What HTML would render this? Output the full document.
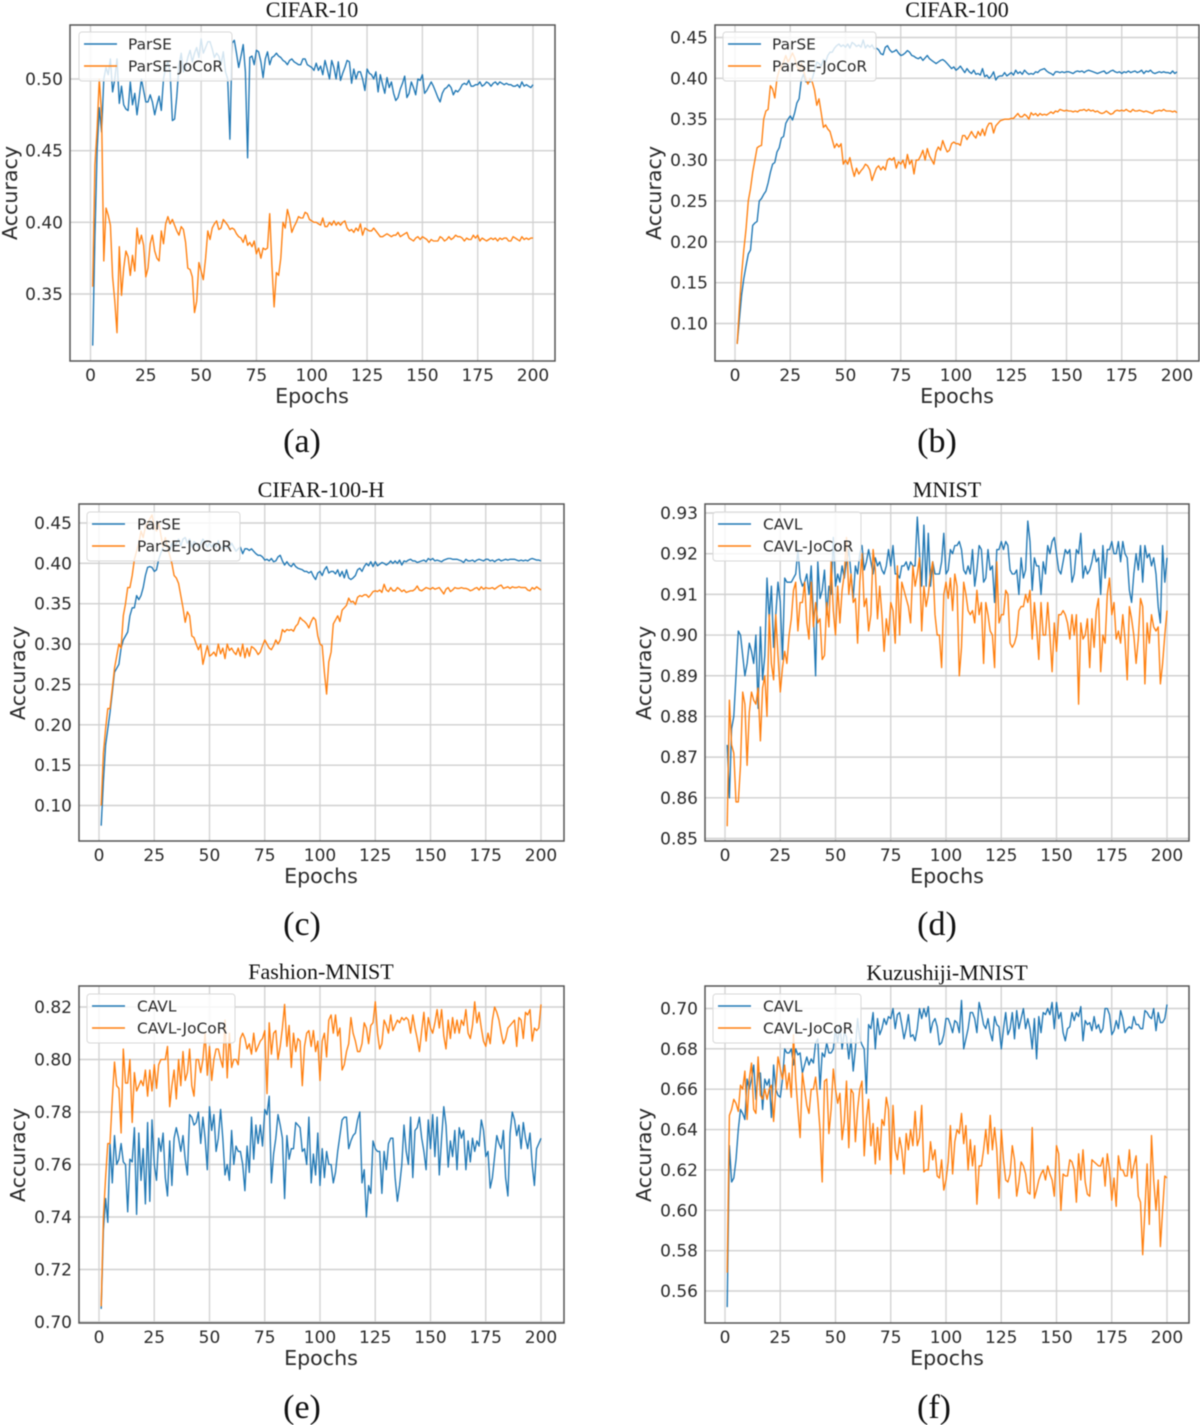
<!DOCTYPE html>
<html lang="en">
<head>
<meta charset="utf-8">
<title>Accuracy curves on six datasets</title>
<style>
html,body{margin:0;padding:0;background:#fff;}
#figure{display:block;width:1200px;height:1425px;background:#fff;}
.blurred{filter:blur(0.45px);}
.tick{font-family:"DejaVu Sans",sans-serif;font-size:17px;fill:#2a2a2a;}
.axis-title{font-family:"DejaVu Sans",sans-serif;font-size:20.6px;fill:#2a2a2a;text-anchor:middle;}
.legend-text{font-family:"DejaVu Sans",sans-serif;font-size:15.4px;fill:#2a2a2a;}
.title{font-family:"Liberation Serif",serif;font-size:22px;fill:#111;text-anchor:middle;}
.caption{font-family:"Liberation Serif",serif;font-size:34px;fill:#111;text-anchor:middle;}
.legend-box{fill:#fff;fill-opacity:.8;stroke:#d8d8d8;stroke-width:1;}
</style>
</head>
<body>
<svg id="figure" xmlns="http://www.w3.org/2000/svg" width="1200" height="1425" viewBox="0 0 1200 1425">
<g class="blurred">

<!-- panel a -->
<g>
<g id="plot-a"></g>
<g>
<rect class="legend-box" x="79" y="32" width="153" height="49" rx="3"/>
<line x1="84" x2="117" y1="44" y2="44" stroke="#1f77b4" stroke-width="1.5"/>
<text class="legend-text" x="128" y="49.5">ParSE</text>
<line x1="84" x2="117" y1="66" y2="66" stroke="#ff7f0e" stroke-width="1.5"/>
<text class="legend-text" x="128" y="71.5">ParSE-JoCoR</text>
</g>
<text class="title" x="312" y="17">CIFAR-10</text>
<text class="axis-title" x="312" y="403">Epochs</text>
<text class="axis-title" transform="translate(17,193) rotate(-90)">Accuracy</text>
<text class="caption" x="302" y="452">(a)</text>
</g>

<!-- panel b -->
<g>
<g id="plot-b"></g>
<g>
<rect class="legend-box" x="723" y="32" width="153" height="49" rx="3"/>
<line x1="728" x2="761" y1="44" y2="44" stroke="#1f77b4" stroke-width="1.5"/>
<text class="legend-text" x="772" y="49.5">ParSE</text>
<line x1="728" x2="761" y1="66" y2="66" stroke="#ff7f0e" stroke-width="1.5"/>
<text class="legend-text" x="772" y="71.5">ParSE-JoCoR</text>
</g>
<text class="title" x="957" y="17">CIFAR-100</text>
<text class="axis-title" x="957" y="403">Epochs</text>
<text class="axis-title" transform="translate(661,193) rotate(-90)">Accuracy</text>
<text class="caption" x="937" y="452">(b)</text>
</g>

<!-- panel c -->
<g>
<g id="plot-c"></g>
<g>
<rect class="legend-box" x="87" y="512" width="153" height="49" rx="3"/>
<line x1="92" x2="125" y1="524" y2="524" stroke="#1f77b4" stroke-width="1.5"/>
<text class="legend-text" x="137" y="529.5">ParSE</text>
<line x1="92" x2="125" y1="546" y2="546" stroke="#ff7f0e" stroke-width="1.5"/>
<text class="legend-text" x="137" y="551.5">ParSE-JoCoR</text>
</g>
<text class="title" x="321" y="497">CIFAR-100-H</text>
<text class="axis-title" x="321" y="883">Epochs</text>
<text class="axis-title" transform="translate(25,673) rotate(-90)">Accuracy</text>
<text class="caption" x="302" y="935">(c)</text>
</g>

<!-- panel d -->
<g>
<g id="plot-d"></g>
<g>
<rect class="legend-box" x="713" y="512" width="148" height="49" rx="3"/>
<line x1="718" x2="751" y1="524" y2="524" stroke="#1f77b4" stroke-width="1.5"/>
<text class="legend-text" x="763" y="529.5">CAVL</text>
<line x1="718" x2="751" y1="546" y2="546" stroke="#ff7f0e" stroke-width="1.5"/>
<text class="legend-text" x="763" y="551.5">CAVL-JoCoR</text>
</g>
<text class="title" x="947" y="497">MNIST</text>
<text class="axis-title" x="947" y="883">Epochs</text>
<text class="axis-title" transform="translate(651,673) rotate(-90)">Accuracy</text>
<text class="caption" x="937" y="935">(d)</text>
</g>

<!-- panel e -->
<g>
<g id="plot-e"></g>
<g>
<rect class="legend-box" x="87" y="994" width="148" height="49" rx="3"/>
<line x1="92" x2="125" y1="1006" y2="1006" stroke="#1f77b4" stroke-width="1.5"/>
<text class="legend-text" x="137" y="1011.5">CAVL</text>
<line x1="92" x2="125" y1="1028" y2="1028" stroke="#ff7f0e" stroke-width="1.5"/>
<text class="legend-text" x="137" y="1033.5">CAVL-JoCoR</text>
</g>
<text class="title" x="321" y="979">Fashion-MNIST</text>
<text class="axis-title" x="321" y="1365">Epochs</text>
<text class="axis-title" transform="translate(25,1155) rotate(-90)">Accuracy</text>
<text class="caption" x="302" y="1418">(e)</text>
</g>

<!-- panel f -->
<g>
<g id="plot-f"></g>
<g>
<rect class="legend-box" x="713" y="994" width="148" height="49" rx="3"/>
<line x1="718" x2="751" y1="1006" y2="1006" stroke="#1f77b4" stroke-width="1.5"/>
<text class="legend-text" x="763" y="1011.5">CAVL</text>
<line x1="718" x2="751" y1="1028" y2="1028" stroke="#ff7f0e" stroke-width="1.5"/>
<text class="legend-text" x="763" y="1033.5">CAVL-JoCoR</text>
</g>
<text class="title" x="947" y="980">Kuzushiji-MNIST</text>
<text class="axis-title" x="947" y="1365">Epochs</text>
<text class="axis-title" transform="translate(651,1155) rotate(-90)">Accuracy</text>
<text class="caption" x="934" y="1418">(f)</text>
</g>

</g>
</svg>

<script>
// ---- shared tick labels ----
const epochTicks = [0,25,50,75,100,125,150,175,200];

// ---- (a) CIFAR-10 ----
const cifar10YTicks = [0.35,0.40,0.45,0.50];
const cifar10ParSE = [
.314,.39,.45,.48,.463,.50,.508,.503,.514,.491,.50,.514,.483,.495,.482,.479,.478,.498,.482,.490,.475,.487,.500,.492,.484,
.484,.489,.484,.475,.482,.488,.478,.500,.508,.512,.505,.471,.472,.488,.510,.518,.505,.508,.515,.520,.512,.518,.522,.515,.528,
.518,.522,.526,.526,.521,.515,.518,.516,.510,.519,.505,.500,.458,.525,.527,.518,.508,.516,.524,.505,.445,.515,.516,.510,.520,
.519,.512,.501,.514,.519,.510,.515,.516,.518,.516,.515,.513,.512,.510,.513,.514,.512,.511,.510,.510,.514,.514,.510,.509,.508,
.506,.511,.506,.509,.503,.513,.507,.500,.513,.508,.500,.512,.499,.504,.508,.513,.512,.497,.507,.500,.505,.505,.500,.492,.507,
.504,.503,.500,.505,.491,.503,.496,.490,.501,.494,.498,.490,.485,.487,.493,.497,.502,.487,.490,.498,.494,.489,.500,.499,.503,
.490,.492,.495,.498,.495,.491,.487,.484,.490,.493,.494,.496,.494,.489,.492,.491,.493,.496,.497,.496,.499,.495,.495,.496,.496,
.498,.495,.496,.498,.497,.495,.497,.498,.496,.498,.497,.496,.497,.496,.496,.495,.495,.496,.494,.498,.495,.496,.495,.494,.496];
const cifar10JoCoR = [
.355,.44,.465,.50,.475,.373,.41,.405,.398,.362,.345,.323,.383,.349,.368,.380,.376,.363,.377,.366,.396,.385,.391,.384,.362,
.368,.385,.391,.380,.375,.373,.394,.385,.399,.404,.399,.402,.398,.394,.391,.397,.395,.386,.368,.367,.362,.337,.345,.372,.366,
.360,.375,.394,.388,.396,.399,.401,.395,.396,.402,.400,.398,.395,.396,.395,.392,.390,.389,.386,.391,.384,.386,.383,.387,.378,
.382,.375,.382,.381,.382,.406,.370,.341,.365,.363,.375,.400,.396,.409,.403,.393,.397,.400,.404,.403,.403,.407,.406,.402,.401,
.400,.400,.399,.398,.403,.397,.397,.400,.398,.401,.398,.400,.398,.400,.401,.396,.394,.395,.393,.396,.394,.399,.391,.396,.395,
.394,.394,.396,.394,.392,.390,.390,.391,.392,.391,.390,.391,.391,.393,.390,.391,.392,.393,.389,.388,.387,.389,.390,.388,.390,
.389,.388,.386,.388,.387,.387,.387,.390,.389,.387,.388,.390,.388,.389,.391,.390,.390,.389,.387,.389,.388,.388,.391,.389,.391,
.387,.389,.388,.387,.388,.389,.388,.389,.387,.389,.388,.389,.389,.387,.387,.390,.389,.388,.387,.390,.388,.389,.388,.389,.389];

// ---- (b) CIFAR-100 ----
const cifar100YTicks = [0.10,0.15,0.20,0.25,0.30,0.35,0.40,0.45];
const cifar100ParSE = [
.075,.105,.135,.155,.170,.185,.190,.220,.223,.225,.250,.253,.258,.262,.272,.285,.295,.297,.310,.315,.327,.329,.345,.350,.354,
.349,.358,.370,.375,.398,.405,.396,.395,.396,.400,.410,.420,.418,.415,.423,.420,.428,.432,.432,.437,.440,.442,.439,.441,.438,
.442,.437,.444,.442,.439,.441,.438,.447,.437,.441,.438,.441,.436,.437,.435,.430,.429,.438,.440,.435,.432,.433,.435,.431,.428,
.429,.431,.434,.432,.428,.427,.425,.424,.426,.422,.425,.428,.424,.422,.420,.418,.420,.422,.423,.421,.418,.415,.412,.414,.410,
.412,.415,.411,.407,.412,.408,.406,.410,.405,.406,.404,.412,.402,.404,.400,.403,.408,.398,.402,.403,.403,.407,.403,.405,.407,
.404,.410,.406,.408,.405,.410,.407,.405,.406,.405,.408,.407,.410,.411,.412,.409,.407,.406,.404,.408,.408,.407,.408,.407,.408,
.408,.407,.406,.408,.409,.408,.409,.407,.409,.410,.409,.408,.407,.406,.407,.408,.409,.406,.407,.409,.410,.408,.407,.408,.406,
.408,.407,.409,.407,.408,.409,.407,.408,.410,.406,.409,.408,.410,.407,.406,.407,.408,.407,.408,.407,.407,.406,.409,.406,.408];
const cifar100JoCoR = [
.075,.12,.16,.19,.215,.25,.265,.285,.30,.315,.317,.318,.35,.36,.362,.391,.387,.376,.40,.41,.415,.42,.428,.42,.425,
.431,.425,.415,.41,.418,.41,.40,.393,.40,.395,.385,.367,.375,.358,.34,.343,.338,.335,.325,.315,.32,.316,.32,.295,.30,
.295,.303,.29,.28,.29,.283,.287,.29,.295,.293,.288,.275,.283,.29,.293,.288,.292,.288,.30,.302,.30,.303,.29,.298,.295,
.30,.29,.307,.295,.30,.283,.30,.30,.305,.312,.30,.314,.305,.30,.295,.31,.316,.312,.324,.316,.31,.312,.32,.322,.32,
.32,.318,.33,.33,.325,.33,.335,.33,.327,.335,.33,.338,.33,.34,.345,.345,.333,.342,.345,.348,.349,.35,.35,.35,.351,
.351,.354,.357,.353,.353,.356,.354,.35,.358,.355,.357,.354,.357,.355,.356,.355,.357,.359,.357,.36,.359,.362,.361,.36,.361,
.36,.36,.359,.36,.359,.361,.361,.362,.36,.362,.36,.361,.359,.36,.358,.357,.358,.36,.358,.356,.357,.36,.361,.36,.361,
.36,.362,.36,.359,.362,.36,.36,.361,.36,.359,.36,.359,.358,.357,.36,.36,.361,.36,.362,.36,.36,.36,.359,.36,.358];

// ---- (c) CIFAR-100-H ----
const cifar100hYTicks = [0.10,0.15,0.20,0.25,0.30,0.35,0.40,0.45];
const cifar100hParSE = [
.075,.13,.175,.195,.215,.24,.265,.27,.275,.295,.305,.31,.315,.335,.345,.345,.36,.355,.36,.37,.385,.395,.396,.395,.39,
.392,.405,.413,.42,.425,.42,.415,.425,.42,.425,.43,.422,.43,.432,.425,.43,.42,.427,.425,.42,.424,.43,.426,.42,.425,
.42,.425,.42,.428,.418,.42,.423,.418,.42,.425,.42,.415,.418,.42,.412,.418,.418,.416,.418,.415,.412,.41,.41,.408,.404,
.405,.403,.406,.402,.403,.408,.41,.403,.398,.402,.398,.396,.40,.396,.394,.393,.392,.39,.39,.388,.39,.384,.38,.388,.39,
.385,.392,.396,.388,.39,.39,.387,.392,.384,.39,.382,.392,.382,.38,.382,.385,.392,.394,.39,.396,.40,.397,.402,.396,.402,
.397,.399,.401,.40,.398,.40,.403,.40,.403,.40,.404,.398,.403,.402,.404,.405,.403,.403,.401,.402,.403,.404,.402,.406,.404,
.406,.403,.404,.403,.402,.404,.405,.406,.406,.405,.405,.405,.404,.403,.401,.405,.403,.403,.404,.402,.404,.405,.404,.403,.405,
.405,.403,.404,.402,.404,.405,.403,.404,.405,.404,.405,.405,.405,.404,.403,.404,.403,.404,.403,.405,.406,.405,.404,.404,.403];
const cifar100hJoCoR = [
.10,.165,.195,.22,.22,.245,.27,.285,.30,.295,.335,.35,.37,.37,.385,.405,.415,.425,.44,.432,.445,.45,.455,.46,.445,
.44,.45,.435,.42,.432,.42,.41,.40,.385,.382,.375,.36,.345,.327,.34,.335,.31,.308,.30,.293,.30,.275,.287,.298,.285,
.287,.29,.285,.30,.288,.295,.282,.30,.292,.295,.29,.287,.295,.285,.30,.283,.295,.285,.297,.295,.292,.287,.29,.298,.305,
.30,.295,.293,.298,.305,.30,.305,.318,.315,.318,.317,.318,.316,.322,.325,.333,.33,.328,.325,.32,.328,.333,.33,.31,.30,
.298,.265,.238,.278,.29,.325,.33,.335,.328,.342,.345,.348,.357,.352,.353,.349,.358,.36,.359,.361,.361,.358,.361,.365,.366,
.365,.367,.364,.374,.367,.365,.37,.366,.366,.37,.368,.365,.367,.364,.365,.366,.366,.368,.372,.367,.366,.368,.37,.369,.368,
.37,.368,.369,.37,.366,.362,.368,.37,.365,.367,.37,.369,.369,.37,.369,.369,.368,.366,.367,.369,.37,.367,.371,.368,.37,
.369,.369,.37,.368,.37,.372,.373,.369,.37,.371,.369,.371,.37,.37,.371,.37,.37,.37,.367,.366,.37,.368,.371,.369,.367];

// ---- (d) MNIST ----
const mnistYTicks = [0.85,0.86,0.87,0.88,0.89,0.90,0.91,0.92,0.93];
const mnistCAVL = [
.873,.86,.877,.88,.89,.901,.900,.895,.890,.893,.898,.896,.893,.90,.882,.902,.889,.895,.914,.904,.912,.897,.905,.913,.908,
.894,.914,.913,.913,.913,.914,.915,.921,.914,.912,.913,.915,.91,.917,.905,.89,.918,.909,.911,.916,.905,.912,.91,.924,.912,
.915,.913,.917,.914,.918,.921,.915,.909,.917,.915,.92,.922,.916,.918,.921,.918,.915,.919,.917,.918,.916,.915,.917,.921,.917,
.922,.915,.915,.914,.917,.917,.918,.916,.918,.917,.917,.929,.92,.912,.927,.912,.925,.912,.918,.915,.915,.915,.918,.925,.915,
.916,.921,.92,.922,.922,.923,.921,.916,.915,.917,.915,.921,.912,.916,.922,.921,.913,.914,.921,.916,.917,.908,.921,.921,.923,
.921,.923,.922,.916,.915,.915,.916,.91,.919,.914,.916,.928,.923,.911,.919,.917,.917,.91,.918,.915,.922,.92,.923,.924,.92,
.916,.915,.918,.921,.92,.921,.913,.915,.921,.92,.925,.914,.917,.915,.916,.918,.921,.918,.919,.91,.922,.914,.921,.921,.923,
.92,.92,.923,.918,.923,.92,.919,.911,.908,.915,.92,.916,.922,.913,.922,.919,.92,.917,.919,.915,.907,.903,.922,.913,.919];
const mnistJoCoR = [
.853,.884,.873,.871,.859,.859,.868,.886,.883,.868,.881,.886,.884,.883,.887,.874,.887,.89,.88,.905,.893,.889,.905,.895,.886,
.892,.896,.893,.90,.904,.911,.913,.901,.908,.908,.913,.903,.899,.913,.902,.908,.903,.904,.894,.895,.908,.902,.918,.906,.90,
.912,.903,.911,.915,.924,.91,.915,.908,.909,.898,.913,.92,.907,.909,.901,.905,.921,.916,.904,.912,.905,.896,.904,.90,.908,
.906,.898,.917,.90,.913,.911,.909,.907,.903,.917,.912,.915,.919,.901,.912,.907,.91,.915,.918,.905,.90,.90,.892,.91,.913,
.909,.914,.906,.915,.912,.89,.897,.913,.91,.906,.905,.906,.903,.911,.905,.908,.893,.908,.905,.901,.90,.892,.918,.903,.905,
.905,.911,.91,.898,.897,.898,.90,.906,.907,.907,.91,.908,.911,.899,.908,.902,.894,.908,.90,.90,.908,.90,.891,.903,.896,
.905,.905,.906,.905,.903,.899,.905,.90,.905,.883,.903,.899,.90,.904,.892,.904,.897,.906,.909,.891,.90,.898,.91,.914,.905,
.908,.899,.901,.898,.905,.899,.889,.907,.904,.90,.893,.899,.909,.907,.888,.903,.898,.905,.902,.901,.902,.888,.893,.90,.906];

// ---- (e) Fashion-MNIST ----
const fashionYTicks = [0.70,0.72,0.74,0.76,0.78,0.80,0.82];
const fashionCAVL = [
.705,.735,.747,.738,.768,.753,.771,.76,.762,.768,.761,.76,.742,.762,.761,.774,.741,.772,.754,.766,.745,.776,.746,.777,.76,
.754,.77,.765,.772,.755,.748,.769,.752,.77,.774,.77,.765,.771,.762,.756,.779,.778,.775,.776,.78,.768,.778,.77,.758,.782,
.773,.779,.765,.77,.781,.77,.756,.76,.754,.773,.76,.767,.765,.765,.76,.75,.767,.757,.778,.762,.775,.768,.775,.767,.781,
.779,.786,.753,.764,.77,.779,.775,.77,.747,.771,.762,.766,.766,.776,.775,.774,.765,.766,.76,.778,.753,.764,.756,.772,.752,
.766,.755,.765,.76,.76,.753,.757,.765,.771,.777,.778,.778,.766,.769,.771,.772,.777,.78,.753,.758,.74,.752,.749,.769,.766,
.765,.765,.749,.765,.758,.768,.77,.77,.755,.746,.752,.76,.775,.765,.76,.778,.755,.773,.774,.778,.77,.765,.758,.777,.766,
.779,.763,.778,.756,.77,.782,.775,.759,.769,.763,.773,.758,.774,.77,.773,.758,.769,.761,.77,.765,.769,.767,.777,.773,.763,
.765,.751,.755,.763,.771,.768,.766,.773,.755,.748,.772,.78,.777,.771,.775,.766,.776,.77,.766,.772,.76,.752,.766,.768,.77];
const fashionJoCoR = [
.706,.74,.755,.768,.768,.785,.799,.79,.789,.772,.804,.791,.791,.80,.776,.795,.788,.79,.792,.79,.796,.786,.796,.788,.798,
.789,.798,.80,.80,.80,.805,.782,.79,.796,.785,.80,.79,.803,.792,.795,.804,.79,.786,.80,.80,.795,.80,.81,.794,.805,
.792,.80,.804,.804,.80,.797,.815,.793,.81,.797,.80,.80,.798,.808,.81,.808,.804,.806,.802,.81,.803,.805,.807,.808,.811,
.787,.814,.802,.81,.811,.80,.805,.812,.821,.805,.813,.797,.81,.803,.808,.807,.79,.805,.81,.811,.805,.811,.803,.807,.792,
.807,.81,.801,.815,.817,.81,.817,.809,.812,.796,.798,.803,.806,.816,.81,.807,.803,.803,.806,.814,.812,.806,.813,.814,.822,
.81,.804,.806,.815,.813,.81,.817,.811,.813,.815,.814,.816,.815,.816,.815,.81,.817,.812,.808,.803,.811,.818,.807,.816,.812,
.81,.814,.819,.812,.819,.809,.804,.815,.808,.816,.81,.815,.81,.815,.813,.819,.81,.808,.813,.822,.814,.818,.812,.807,.805,
.81,.806,.815,.82,.818,.815,.81,.806,.808,.812,.813,.814,.815,.805,.816,.815,.808,.818,.817,.819,.807,.812,.811,.812,.821];

// ---- (f) Kuzushiji-MNIST ----
const kuzushijiYTicks = [0.56,0.58,0.60,0.62,0.64,0.66,0.68,0.70];
const kuzushijiCAVL = [
.552,.632,.614,.616,.625,.64,.65,.648,.645,.665,.66,.665,.672,.655,.668,.668,.65,.665,.662,.665,.646,.672,.66,.657,.656,
.665,.68,.678,.678,.68,.672,.68,.677,.678,.668,.672,.676,.672,.675,.673,.683,.685,.66,.678,.676,.683,.678,.678,.68,.69,
.683,.692,.68,.688,.686,.675,.685,.669,.68,.695,.685,.682,.68,.658,.692,.69,.698,.68,.695,.687,.69,.695,.692,.696,.695,
.70,.69,.697,.698,.692,.685,.69,.697,.686,.687,.684,.69,.70,.695,.70,.696,.701,.688,.693,.695,.691,.682,.683,.687,.695,
.695,.692,.688,.694,.693,.688,.704,.68,.685,.69,.698,.698,.695,.688,.703,.698,.692,.69,.695,.688,.684,.696,.692,.691,.68,
.69,.698,.687,.69,.698,.685,.699,.69,.695,.70,.69,.695,.69,.68,.695,.675,.696,.688,.698,.697,.70,.697,.703,.69,.703,
.695,.698,.688,.684,.69,.691,.698,.694,.698,.696,.701,.684,.694,.692,.693,.689,.696,.69,.692,.688,.69,.70,.70,.697,.687,
.689,.694,.69,.699,.695,.688,.69,.691,.69,.696,.692,.692,.69,.69,.699,.698,.696,.695,.70,.689,.698,.693,.693,.695,.702];
const kuzushijiJoCoR = [
.569,.647,.65,.655,.653,.649,.662,.66,.669,.645,.665,.673,.65,.648,.676,.657,.655,.66,.655,.66,.662,.644,.66,.676,.67,
.665,.672,.66,.668,.656,.687,.665,.65,.636,.668,.66,.652,.648,.66,.66,.666,.655,.64,.614,.664,.665,.638,.65,.67,.66,
.653,.658,.635,.644,.664,.631,.66,.658,.634,.65,.66,.664,.627,.645,.655,.632,.643,.623,.641,.625,.645,.642,.656,.65,.618,
.652,.63,.625,.636,.63,.618,.638,.63,.64,.632,.649,.632,.636,.652,.619,.62,.62,.634,.625,.63,.617,.616,.625,.61,.615,
.624,.642,.618,.634,.64,.638,.648,.633,.642,.62,.635,.622,.632,.603,.622,.622,.63,.64,.628,.647,.63,.641,.63,.606,.64,
.625,.615,.614,.618,.632,.625,.607,.614,.624,.622,.618,.609,.608,.641,.606,.61,.615,.618,.62,.615,.622,.618,.615,.607,.632,
.628,.60,.618,.617,.617,.625,.624,.62,.604,.628,.615,.63,.614,.608,.607,.625,.624,.623,.622,.622,.626,.612,.628,.62,.605,
.616,.602,.627,.62,.62,.617,.617,.63,.616,.622,.627,.607,.604,.578,.60,.623,.593,.637,.615,.60,.615,.582,.60,.617,.616];

const SVG_NS = 'http://www.w3.org/2000/svg';

function make(tag, attrs, parent) {
  const node = document.createElementNS(SVG_NS, tag);
  for (const key in attrs) node.setAttribute(key, attrs[key]);
  parent.appendChild(node);
  return node;
}

// Builds one panel. Frame and calibration are layout, the series come from the arrays above.
function drawPanel(id, frame, yTicks, blueSeries, orangeSeries) {
  const plot = document.getElementById('plot-' + id);
  const xScale = e => frame.x0 + (e / 200) * (frame.x200 - frame.x0);
  const yScale = v => frame.yA + (v - frame.vA) * (frame.yB - frame.yA) / (frame.vB - frame.vA);

  epochTicks.forEach(t => {
    const grid = make('line', {x1: xScale(t), x2: xScale(t), y1: frame.top, y2: frame.bottom, stroke: '#d4d4d4', 'stroke-width': 1.4}, plot);
    
    
    const label = make('text', {x: xScale(t), y: frame.bottom + 20, 'text-anchor': 'middle', class: 'tick'}, plot);
    
    
    label.textContent = String(t);
  });

  yTicks.forEach(t => {
    const grid = make('line', {x1: frame.left, x2: frame.right, y1: yScale(t), y2: yScale(t), stroke: '#d0d0d0', 'stroke-width': 1.4}, plot);
    
    
    const label = make('text', {x: frame.left - 7, y: yScale(t) + 6, 'text-anchor': 'end', class: 'tick'}, plot);
    
    
    label.textContent = t.toFixed(2);
  });

  const toPoints = series => series.map((v, i) => xScale(i + 1).toFixed(1) + ',' + yScale(v).toFixed(1)).join(' ');

  const blue = make('polyline', {points: toPoints(blueSeries), fill: 'none', stroke: '#1f77b4', 'stroke-width': 1.35, 'stroke-linejoin': 'round'}, plot);
  
  

  const orange = make('polyline', {points: toPoints(orangeSeries), fill: 'none', stroke: '#ff7f0e', 'stroke-width': 1.35, 'stroke-linejoin': 'round'}, plot);
  
  

  const spine = make('rect', {x: frame.left, y: frame.top, width: frame.right - frame.left, height: frame.bottom - frame.top, fill: 'none', stroke: '#555', 'stroke-width': 1.5}, plot);
  
  
}

drawPanel('a', {left:70, right:555, top:25, bottom:361, x0:90.5, x200:533, vA:0.50, yA:79, vB:0.35, yB:294}, cifar10YTicks, cifar10ParSE, cifar10JoCoR);
drawPanel('b', {left:715, right:1199, top:25, bottom:361, x0:735, x200:1177, vA:0.45, yA:37.5, vB:0.10, yB:323.5}, cifar100YTicks, cifar100ParSE, cifar100JoCoR);
drawPanel('c', {left:79, right:564, top:504, bottom:841, x0:99, x200:541, vA:0.45, yA:523, vB:0.10, yB:805.5}, cifar100hYTicks, cifar100hParSE, cifar100hJoCoR);
drawPanel('d', {left:705, right:1189, top:504, bottom:841, x0:725, x200:1167, vA:0.93, yA:513, vB:0.85, yB:838.5}, mnistYTicks, mnistCAVL, mnistJoCoR);
drawPanel('e', {left:79, right:564, top:986, bottom:1323, x0:99, x200:541, vA:0.82, yA:1007, vB:0.70, yB:1322}, fashionYTicks, fashionCAVL, fashionJoCoR);
drawPanel('f', {left:705, right:1189, top:986, bottom:1323, x0:725, x200:1167, vA:0.70, yA:1008.5, vB:0.56, yB:1291}, kuzushijiYTicks, kuzushijiCAVL, kuzushijiJoCoR);
</script>
</body>
</html>
